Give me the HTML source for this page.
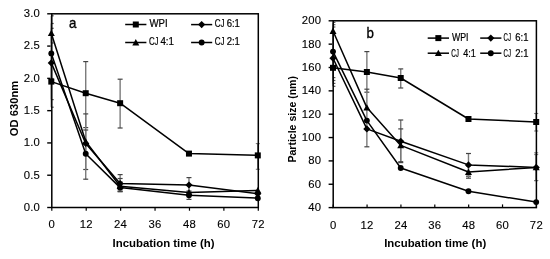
<!DOCTYPE html><html><head><meta charset="utf-8"><style>html,body{margin:0;padding:0;background:#fff;}svg{display:block;}text{font-family:"Liberation Sans", sans-serif;}</style></head><body>
<svg width="550" height="259" viewBox="0 0 550 259">
<rect width="550" height="259" fill="#fff"/>
<line x1="47.20" y1="207.50" x2="51.80" y2="207.50" stroke="#000" stroke-width="1.4"/>
<line x1="47.20" y1="175.22" x2="51.80" y2="175.22" stroke="#000" stroke-width="1.4"/>
<line x1="47.20" y1="142.93" x2="51.80" y2="142.93" stroke="#000" stroke-width="1.4"/>
<line x1="47.20" y1="110.65" x2="51.80" y2="110.65" stroke="#000" stroke-width="1.4"/>
<line x1="47.20" y1="78.37" x2="51.80" y2="78.37" stroke="#000" stroke-width="1.4"/>
<line x1="47.20" y1="46.08" x2="51.80" y2="46.08" stroke="#000" stroke-width="1.4"/>
<line x1="47.20" y1="13.80" x2="51.80" y2="13.80" stroke="#000" stroke-width="1.4"/>
<line x1="51.80" y1="207.50" x2="51.80" y2="210.70" stroke="#000" stroke-width="1.2"/>
<line x1="86.22" y1="207.50" x2="86.22" y2="210.70" stroke="#000" stroke-width="1.2"/>
<line x1="120.63" y1="207.50" x2="120.63" y2="210.70" stroke="#000" stroke-width="1.2"/>
<line x1="155.05" y1="207.50" x2="155.05" y2="210.70" stroke="#000" stroke-width="1.2"/>
<line x1="189.47" y1="207.50" x2="189.47" y2="210.70" stroke="#000" stroke-width="1.2"/>
<line x1="223.88" y1="207.50" x2="223.88" y2="210.70" stroke="#000" stroke-width="1.2"/>
<line x1="258.30" y1="207.50" x2="258.30" y2="210.70" stroke="#000" stroke-width="1.2"/>
<line x1="51.30" y1="63.60" x2="51.30" y2="99.60" stroke="#7a7a7a" stroke-width="1.4"/>
<line x1="51.30" y1="63.60" x2="53.70" y2="63.60" stroke="#555" stroke-width="1.2"/>
<line x1="51.30" y1="99.60" x2="53.70" y2="99.60" stroke="#555" stroke-width="1.2"/>
<line x1="85.72" y1="61.60" x2="85.72" y2="127.60" stroke="#7a7a7a" stroke-width="1.4"/>
<line x1="83.22" y1="61.60" x2="88.22" y2="61.60" stroke="#444" stroke-width="1.2"/>
<line x1="83.22" y1="127.60" x2="88.22" y2="127.60" stroke="#444" stroke-width="1.2"/>
<line x1="120.13" y1="79.20" x2="120.13" y2="128.00" stroke="#7a7a7a" stroke-width="1.4"/>
<line x1="117.63" y1="79.20" x2="122.63" y2="79.20" stroke="#444" stroke-width="1.2"/>
<line x1="117.63" y1="128.00" x2="122.63" y2="128.00" stroke="#444" stroke-width="1.2"/>
<line x1="257.80" y1="143.60" x2="257.80" y2="169.30" stroke="#7a7a7a" stroke-width="1.4"/>
<line x1="255.80" y1="143.60" x2="259.80" y2="143.60" stroke="#777" stroke-width="1.1"/>
<line x1="255.80" y1="169.30" x2="259.80" y2="169.30" stroke="#777" stroke-width="1.1"/>
<line x1="51.30" y1="15.80" x2="51.30" y2="107.20" stroke="#7a7a7a" stroke-width="1.4"/>
<line x1="51.30" y1="15.80" x2="53.70" y2="15.80" stroke="#555" stroke-width="1.2"/>
<line x1="51.30" y1="107.20" x2="53.70" y2="107.20" stroke="#555" stroke-width="1.2"/>
<line x1="120.13" y1="174.60" x2="120.13" y2="191.60" stroke="#7a7a7a" stroke-width="1.4"/>
<line x1="117.63" y1="174.60" x2="122.63" y2="174.60" stroke="#444" stroke-width="1.2"/>
<line x1="117.63" y1="191.60" x2="122.63" y2="191.60" stroke="#444" stroke-width="1.2"/>
<line x1="188.97" y1="177.60" x2="188.97" y2="192.40" stroke="#7a7a7a" stroke-width="1.4"/>
<line x1="186.47" y1="177.60" x2="191.47" y2="177.60" stroke="#444" stroke-width="1.2"/>
<line x1="186.47" y1="192.40" x2="191.47" y2="192.40" stroke="#444" stroke-width="1.2"/>
<line x1="51.30" y1="23.50" x2="51.30" y2="43.00" stroke="#7a7a7a" stroke-width="1.4"/>
<line x1="51.30" y1="23.50" x2="53.70" y2="23.50" stroke="#555" stroke-width="1.2"/>
<line x1="51.30" y1="43.00" x2="53.70" y2="43.00" stroke="#555" stroke-width="1.2"/>
<line x1="85.72" y1="113.90" x2="85.72" y2="169.50" stroke="#7a7a7a" stroke-width="1.4"/>
<line x1="83.22" y1="113.90" x2="88.22" y2="113.90" stroke="#444" stroke-width="1.2"/>
<line x1="83.22" y1="169.50" x2="88.22" y2="169.50" stroke="#444" stroke-width="1.2"/>
<line x1="120.13" y1="178.50" x2="120.13" y2="190.00" stroke="#7a7a7a" stroke-width="1.4"/>
<line x1="117.63" y1="178.50" x2="122.63" y2="178.50" stroke="#444" stroke-width="1.2"/>
<line x1="117.63" y1="190.00" x2="122.63" y2="190.00" stroke="#444" stroke-width="1.2"/>
<line x1="51.30" y1="28.30" x2="51.30" y2="78.50" stroke="#7a7a7a" stroke-width="1.4"/>
<line x1="51.30" y1="28.30" x2="53.70" y2="28.30" stroke="#555" stroke-width="1.2"/>
<line x1="51.30" y1="78.50" x2="53.70" y2="78.50" stroke="#555" stroke-width="1.2"/>
<line x1="85.72" y1="130.00" x2="85.72" y2="179.20" stroke="#7a7a7a" stroke-width="1.4"/>
<line x1="83.22" y1="130.00" x2="88.22" y2="130.00" stroke="#444" stroke-width="1.2"/>
<line x1="83.22" y1="179.20" x2="88.22" y2="179.20" stroke="#444" stroke-width="1.2"/>
<line x1="120.13" y1="182.00" x2="120.13" y2="191.60" stroke="#7a7a7a" stroke-width="1.4"/>
<line x1="117.63" y1="182.00" x2="122.63" y2="182.00" stroke="#444" stroke-width="1.2"/>
<line x1="117.63" y1="191.60" x2="122.63" y2="191.60" stroke="#444" stroke-width="1.2"/>
<line x1="188.97" y1="191.00" x2="188.97" y2="199.40" stroke="#7a7a7a" stroke-width="1.4"/>
<line x1="186.47" y1="191.00" x2="191.47" y2="191.00" stroke="#444" stroke-width="1.2"/>
<line x1="186.47" y1="199.40" x2="191.47" y2="199.40" stroke="#444" stroke-width="1.2"/>
<rect x="51.80" y="13.80" width="206.50" height="193.70" fill="none" stroke="#000" stroke-width="1.5"/>
<polyline points="51.30,81.60 85.72,93.20 120.13,103.20 188.97,153.60 257.80,155.40" fill="none" stroke="#000" stroke-width="1.5" stroke-linejoin="round"/>
<rect x="48.30" y="78.60" width="6.00" height="6.00" fill="#000"/>
<rect x="82.72" y="90.20" width="6.00" height="6.00" fill="#000"/>
<rect x="117.13" y="100.20" width="6.00" height="6.00" fill="#000"/>
<rect x="185.97" y="150.60" width="6.00" height="6.00" fill="#000"/>
<rect x="254.80" y="152.40" width="6.00" height="6.00" fill="#000"/>
<polyline points="51.30,62.90 85.72,143.50 120.13,183.60 188.97,185.00 257.80,193.80" fill="none" stroke="#000" stroke-width="1.5" stroke-linejoin="round"/>
<polygon points="51.30,59.30 54.90,62.90 51.30,66.50 47.70,62.90" fill="#000"/>
<polygon points="85.72,139.90 89.32,143.50 85.72,147.10 82.12,143.50" fill="#000"/>
<polygon points="120.13,180.00 123.73,183.60 120.13,187.20 116.53,183.60" fill="#000"/>
<polygon points="188.97,181.40 192.57,185.00 188.97,188.60 185.37,185.00" fill="#000"/>
<polygon points="257.80,190.20 261.40,193.80 257.80,197.40 254.20,193.80" fill="#000"/>
<polyline points="51.30,33.20 85.72,141.50 120.13,186.20 188.97,192.40 257.80,190.40" fill="none" stroke="#000" stroke-width="1.5" stroke-linejoin="round"/>
<polygon points="51.30,29.80 54.80,36.10 47.80,36.10" fill="#000"/>
<polygon points="85.72,138.10 89.22,144.40 82.22,144.40" fill="#000"/>
<polygon points="120.13,182.80 123.63,189.10 116.63,189.10" fill="#000"/>
<polygon points="188.97,189.00 192.47,195.30 185.47,195.30" fill="#000"/>
<polygon points="257.80,187.00 261.30,193.30 254.30,193.30" fill="#000"/>
<polyline points="51.30,53.40 85.72,153.70 120.13,187.60 188.97,195.20 257.80,198.20" fill="none" stroke="#000" stroke-width="1.5" stroke-linejoin="round"/>
<circle cx="51.30" cy="53.40" r="2.95" fill="#000"/>
<circle cx="85.72" cy="153.70" r="2.95" fill="#000"/>
<circle cx="120.13" cy="187.60" r="2.95" fill="#000"/>
<circle cx="188.97" cy="195.20" r="2.95" fill="#000"/>
<circle cx="257.80" cy="198.20" r="2.95" fill="#000"/>
<text x="68.9" y="27.6" font-size="15" textLength="7.4" lengthAdjust="spacingAndGlyphs" fill="#000" stroke="#000" stroke-width="0.35">a</text>
<line x1="125.2" y1="24.5" x2="146.4" y2="24.5" stroke="#000" stroke-width="1.5"/>
<rect x="132.80" y="21.50" width="6.00" height="6.00" fill="#000"/>
<text y="26.80" font-size="10.6" fill="#000" stroke="#000" stroke-width="0.22"><tspan x="149.51" textLength="18.13" lengthAdjust="spacingAndGlyphs">WPI</tspan></text>
<line x1="125.2" y1="42.5" x2="146.4" y2="42.5" stroke="#000" stroke-width="1.5"/>
<polygon points="135.80,39.10 139.30,45.40 132.30,45.40" fill="#000"/>
<text y="44.60" font-size="10.6" fill="#000" stroke="#000" stroke-width="0.22"><tspan x="148.95" textLength="9.58" lengthAdjust="spacingAndGlyphs">CJ</tspan> <tspan x="160.43" textLength="13.60" lengthAdjust="spacingAndGlyphs">4:1</tspan></text>
<line x1="191.1" y1="24.6" x2="212.2" y2="24.6" stroke="#000" stroke-width="1.5"/>
<polygon points="201.65,21.00 205.25,24.60 201.65,28.20 198.05,24.60" fill="#000"/>
<text y="26.80" font-size="10.6" fill="#000" stroke="#000" stroke-width="0.22"><tspan x="214.74" textLength="9.80" lengthAdjust="spacingAndGlyphs">CJ</tspan> <tspan x="226.67" textLength="13.25" lengthAdjust="spacingAndGlyphs">6:1</tspan></text>
<line x1="191.1" y1="42.5" x2="212.2" y2="42.5" stroke="#000" stroke-width="1.5"/>
<circle cx="201.65" cy="42.50" r="2.95" fill="#000"/>
<text y="44.60" font-size="10.6" fill="#000" stroke="#000" stroke-width="0.22"><tspan x="214.74" textLength="9.80" lengthAdjust="spacingAndGlyphs">CJ</tspan> <tspan x="226.67" textLength="13.24" lengthAdjust="spacingAndGlyphs">2:1</tspan></text>
<line x1="328.60" y1="207.60" x2="333.20" y2="207.60" stroke="#000" stroke-width="1.4"/>
<line x1="328.60" y1="184.25" x2="333.20" y2="184.25" stroke="#000" stroke-width="1.4"/>
<line x1="328.60" y1="160.90" x2="333.20" y2="160.90" stroke="#000" stroke-width="1.4"/>
<line x1="328.60" y1="137.55" x2="333.20" y2="137.55" stroke="#000" stroke-width="1.4"/>
<line x1="328.60" y1="114.20" x2="333.20" y2="114.20" stroke="#000" stroke-width="1.4"/>
<line x1="328.60" y1="90.85" x2="333.20" y2="90.85" stroke="#000" stroke-width="1.4"/>
<line x1="328.60" y1="67.50" x2="333.20" y2="67.50" stroke="#000" stroke-width="1.4"/>
<line x1="328.60" y1="44.15" x2="333.20" y2="44.15" stroke="#000" stroke-width="1.4"/>
<line x1="328.60" y1="20.80" x2="333.20" y2="20.80" stroke="#000" stroke-width="1.4"/>
<line x1="333.20" y1="204.40" x2="333.20" y2="207.60" stroke="#000" stroke-width="1.2"/>
<line x1="367.07" y1="204.40" x2="367.07" y2="207.60" stroke="#000" stroke-width="1.2"/>
<line x1="400.93" y1="204.40" x2="400.93" y2="207.60" stroke="#000" stroke-width="1.2"/>
<line x1="434.80" y1="204.40" x2="434.80" y2="207.60" stroke="#000" stroke-width="1.2"/>
<line x1="468.67" y1="204.40" x2="468.67" y2="207.60" stroke="#000" stroke-width="1.2"/>
<line x1="502.53" y1="204.40" x2="502.53" y2="207.60" stroke="#000" stroke-width="1.2"/>
<line x1="536.40" y1="204.40" x2="536.40" y2="207.60" stroke="#000" stroke-width="1.2"/>
<line x1="333.00" y1="57.80" x2="333.00" y2="77.60" stroke="#7a7a7a" stroke-width="1.4"/>
<line x1="333.00" y1="57.80" x2="335.40" y2="57.80" stroke="#555" stroke-width="1.2"/>
<line x1="333.00" y1="77.60" x2="335.40" y2="77.60" stroke="#555" stroke-width="1.2"/>
<line x1="366.87" y1="51.60" x2="366.87" y2="92.20" stroke="#7a7a7a" stroke-width="1.4"/>
<line x1="364.37" y1="51.60" x2="369.37" y2="51.60" stroke="#444" stroke-width="1.2"/>
<line x1="364.37" y1="92.20" x2="369.37" y2="92.20" stroke="#444" stroke-width="1.2"/>
<line x1="400.73" y1="68.90" x2="400.73" y2="88.00" stroke="#7a7a7a" stroke-width="1.4"/>
<line x1="398.23" y1="68.90" x2="403.23" y2="68.90" stroke="#444" stroke-width="1.2"/>
<line x1="398.23" y1="88.00" x2="403.23" y2="88.00" stroke="#444" stroke-width="1.2"/>
<line x1="536.20" y1="113.50" x2="536.20" y2="131.00" stroke="#7a7a7a" stroke-width="1.4"/>
<line x1="534.20" y1="113.50" x2="538.20" y2="113.50" stroke="#777" stroke-width="1.1"/>
<line x1="534.20" y1="131.00" x2="538.20" y2="131.00" stroke="#777" stroke-width="1.1"/>
<line x1="333.00" y1="27.00" x2="333.00" y2="86.30" stroke="#7a7a7a" stroke-width="1.4"/>
<line x1="333.00" y1="27.00" x2="335.40" y2="27.00" stroke="#555" stroke-width="1.2"/>
<line x1="333.00" y1="86.30" x2="335.40" y2="86.30" stroke="#555" stroke-width="1.2"/>
<line x1="366.87" y1="89.20" x2="366.87" y2="146.80" stroke="#7a7a7a" stroke-width="1.4"/>
<line x1="364.37" y1="89.20" x2="369.37" y2="89.20" stroke="#444" stroke-width="1.2"/>
<line x1="364.37" y1="146.80" x2="369.37" y2="146.80" stroke="#444" stroke-width="1.2"/>
<line x1="400.73" y1="120.00" x2="400.73" y2="162.60" stroke="#7a7a7a" stroke-width="1.4"/>
<line x1="398.23" y1="120.00" x2="403.23" y2="120.00" stroke="#444" stroke-width="1.2"/>
<line x1="398.23" y1="162.60" x2="403.23" y2="162.60" stroke="#444" stroke-width="1.2"/>
<line x1="468.47" y1="153.50" x2="468.47" y2="176.20" stroke="#7a7a7a" stroke-width="1.4"/>
<line x1="465.97" y1="153.50" x2="470.97" y2="153.50" stroke="#444" stroke-width="1.2"/>
<line x1="465.97" y1="176.20" x2="470.97" y2="176.20" stroke="#444" stroke-width="1.2"/>
<line x1="536.20" y1="152.80" x2="536.20" y2="180.60" stroke="#7a7a7a" stroke-width="1.4"/>
<line x1="534.20" y1="152.80" x2="538.20" y2="152.80" stroke="#777" stroke-width="1.1"/>
<line x1="534.20" y1="180.60" x2="538.20" y2="180.60" stroke="#777" stroke-width="1.1"/>
<line x1="333.00" y1="24.70" x2="333.00" y2="83.40" stroke="#7a7a7a" stroke-width="1.4"/>
<line x1="333.00" y1="24.70" x2="335.40" y2="24.70" stroke="#555" stroke-width="1.2"/>
<line x1="333.00" y1="83.40" x2="335.40" y2="83.40" stroke="#555" stroke-width="1.2"/>
<line x1="400.73" y1="128.90" x2="400.73" y2="161.70" stroke="#7a7a7a" stroke-width="1.4"/>
<line x1="398.23" y1="128.90" x2="403.23" y2="128.90" stroke="#444" stroke-width="1.2"/>
<line x1="398.23" y1="161.70" x2="403.23" y2="161.70" stroke="#444" stroke-width="1.2"/>
<line x1="468.47" y1="166.00" x2="468.47" y2="178.20" stroke="#7a7a7a" stroke-width="1.4"/>
<line x1="465.97" y1="166.00" x2="470.97" y2="166.00" stroke="#444" stroke-width="1.2"/>
<line x1="465.97" y1="178.20" x2="470.97" y2="178.20" stroke="#444" stroke-width="1.2"/>
<line x1="536.20" y1="154.60" x2="536.20" y2="180.60" stroke="#7a7a7a" stroke-width="1.4"/>
<line x1="534.20" y1="154.60" x2="538.20" y2="154.60" stroke="#777" stroke-width="1.1"/>
<line x1="534.20" y1="180.60" x2="538.20" y2="180.60" stroke="#777" stroke-width="1.1"/>
<line x1="333.00" y1="22.40" x2="333.00" y2="80.50" stroke="#7a7a7a" stroke-width="1.4"/>
<line x1="333.00" y1="22.40" x2="335.40" y2="22.40" stroke="#555" stroke-width="1.2"/>
<line x1="333.00" y1="80.50" x2="335.40" y2="80.50" stroke="#555" stroke-width="1.2"/>
<rect x="333.20" y="20.80" width="203.20" height="186.80" fill="none" stroke="#000" stroke-width="1.5"/>
<polyline points="333.00,67.80 366.87,72.00 400.73,78.00 468.47,119.00 536.20,122.00" fill="none" stroke="#000" stroke-width="1.5" stroke-linejoin="round"/>
<rect x="330.00" y="64.80" width="6.00" height="6.00" fill="#000"/>
<rect x="363.87" y="69.00" width="6.00" height="6.00" fill="#000"/>
<rect x="397.73" y="75.00" width="6.00" height="6.00" fill="#000"/>
<rect x="465.47" y="116.00" width="6.00" height="6.00" fill="#000"/>
<rect x="533.20" y="119.00" width="6.00" height="6.00" fill="#000"/>
<polyline points="333.00,58.20 366.87,128.90 400.73,141.30 468.47,164.90 536.20,167.40" fill="none" stroke="#000" stroke-width="1.5" stroke-linejoin="round"/>
<polygon points="333.00,54.60 336.60,58.20 333.00,61.80 329.40,58.20" fill="#000"/>
<polygon points="366.87,125.30 370.47,128.90 366.87,132.50 363.27,128.90" fill="#000"/>
<polygon points="400.73,137.70 404.33,141.30 400.73,144.90 397.13,141.30" fill="#000"/>
<polygon points="468.47,161.30 472.07,164.90 468.47,168.50 464.87,164.90" fill="#000"/>
<polygon points="536.20,163.80 539.80,167.40 536.20,171.00 532.60,167.40" fill="#000"/>
<polyline points="333.00,31.00 366.87,107.60 400.73,145.40 468.47,172.00 536.20,167.40" fill="none" stroke="#000" stroke-width="1.5" stroke-linejoin="round"/>
<polygon points="333.00,27.60 336.50,33.90 329.50,33.90" fill="#000"/>
<polygon points="366.87,104.20 370.37,110.50 363.37,110.50" fill="#000"/>
<polygon points="400.73,142.00 404.23,148.30 397.23,148.30" fill="#000"/>
<polygon points="468.47,168.60 471.97,174.90 464.97,174.90" fill="#000"/>
<polygon points="536.20,164.00 539.70,170.30 532.70,170.30" fill="#000"/>
<polyline points="333.00,51.60 366.87,120.60 400.73,168.00 468.47,191.30 536.20,202.10" fill="none" stroke="#000" stroke-width="1.5" stroke-linejoin="round"/>
<circle cx="333.00" cy="51.60" r="2.95" fill="#000"/>
<circle cx="366.87" cy="120.60" r="2.95" fill="#000"/>
<circle cx="400.73" cy="168.00" r="2.95" fill="#000"/>
<circle cx="468.47" cy="191.30" r="2.95" fill="#000"/>
<circle cx="536.20" cy="202.10" r="2.95" fill="#000"/>
<text x="366.4" y="37.7" font-size="15" textLength="7.4" lengthAdjust="spacingAndGlyphs" fill="#000" stroke="#000" stroke-width="0.35">b</text>
<line x1="427.7" y1="38.1" x2="449.0" y2="38.1" stroke="#000" stroke-width="1.5"/>
<rect x="435.35" y="35.10" width="6.00" height="6.00" fill="#000"/>
<text y="40.80" font-size="10.2" fill="#000" stroke="#000" stroke-width="0.22"><tspan x="452.01" textLength="16.55" lengthAdjust="spacingAndGlyphs">WPI</tspan></text>
<line x1="427.7" y1="53.2" x2="449.0" y2="53.2" stroke="#000" stroke-width="1.5"/>
<polygon points="438.35,49.80 441.85,56.10 434.85,56.10" fill="#000"/>
<text y="56.50" font-size="10.2" fill="#000" stroke="#000" stroke-width="0.22"><tspan x="451.33" textLength="7.69" lengthAdjust="spacingAndGlyphs">CJ</tspan> <tspan x="463.34" textLength="12.55" lengthAdjust="spacingAndGlyphs">4:1</tspan></text>
<line x1="480.2" y1="38.1" x2="501.4" y2="38.1" stroke="#000" stroke-width="1.5"/>
<polygon points="490.80,34.50 494.40,38.10 490.80,41.70 487.20,38.10" fill="#000"/>
<text y="40.80" font-size="10.2" fill="#000" stroke="#000" stroke-width="0.22"><tspan x="503.54" textLength="7.35" lengthAdjust="spacingAndGlyphs">CJ</tspan> <tspan x="515.27" textLength="13.14" lengthAdjust="spacingAndGlyphs">6:1</tspan></text>
<line x1="480.2" y1="53.2" x2="501.4" y2="53.2" stroke="#000" stroke-width="1.5"/>
<circle cx="490.80" cy="53.20" r="2.95" fill="#000"/>
<text y="56.50" font-size="10.2" fill="#000" stroke="#000" stroke-width="0.22"><tspan x="503.54" textLength="7.35" lengthAdjust="spacingAndGlyphs">CJ</tspan> <tspan x="515.27" textLength="13.14" lengthAdjust="spacingAndGlyphs">2:1</tspan></text>
<text x="40.15" y="210.80" font-size="11.3" text-anchor="end" fill="#000" stroke="#000" stroke-width="0.12" letter-spacing="0.25">0.0</text>
<text x="40.15" y="178.52" font-size="11.3" text-anchor="end" fill="#000" stroke="#000" stroke-width="0.12" letter-spacing="0.25">0.5</text>
<text x="40.15" y="146.23" font-size="11.3" text-anchor="end" fill="#000" stroke="#000" stroke-width="0.12" letter-spacing="0.25">1.0</text>
<text x="40.15" y="113.95" font-size="11.3" text-anchor="end" fill="#000" stroke="#000" stroke-width="0.12" letter-spacing="0.25">1.5</text>
<text x="40.15" y="81.67" font-size="11.3" text-anchor="end" fill="#000" stroke="#000" stroke-width="0.12" letter-spacing="0.25">2.0</text>
<text x="40.15" y="49.38" font-size="11.3" text-anchor="end" fill="#000" stroke="#000" stroke-width="0.12" letter-spacing="0.25">2.5</text>
<text x="40.15" y="17.10" font-size="11.3" text-anchor="end" fill="#000" stroke="#000" stroke-width="0.12" letter-spacing="0.25">3.0</text>
<text x="321.35" y="211.10" font-size="11.3" text-anchor="end" fill="#000" stroke="#000" stroke-width="0.12" letter-spacing="0.25">40</text>
<text x="321.35" y="187.75" font-size="11.3" text-anchor="end" fill="#000" stroke="#000" stroke-width="0.12" letter-spacing="0.25">60</text>
<text x="321.35" y="164.40" font-size="11.3" text-anchor="end" fill="#000" stroke="#000" stroke-width="0.12" letter-spacing="0.25">80</text>
<text x="321.35" y="141.05" font-size="11.3" text-anchor="end" fill="#000" stroke="#000" stroke-width="0.12" letter-spacing="0.25">100</text>
<text x="321.35" y="117.70" font-size="11.3" text-anchor="end" fill="#000" stroke="#000" stroke-width="0.12" letter-spacing="0.25">120</text>
<text x="321.35" y="94.35" font-size="11.3" text-anchor="end" fill="#000" stroke="#000" stroke-width="0.12" letter-spacing="0.25">140</text>
<text x="321.35" y="71.00" font-size="11.3" text-anchor="end" fill="#000" stroke="#000" stroke-width="0.12" letter-spacing="0.25">160</text>
<text x="321.35" y="47.65" font-size="11.3" text-anchor="end" fill="#000" stroke="#000" stroke-width="0.12" letter-spacing="0.25">180</text>
<text x="321.35" y="24.30" font-size="11.3" text-anchor="end" fill="#000" stroke="#000" stroke-width="0.12" letter-spacing="0.25">200</text>
<text x="51.80" y="227.60" font-size="11.3" text-anchor="middle" fill="#000" stroke="#000" stroke-width="0.12" letter-spacing="0.25">0</text>
<text x="333.20" y="228.60" font-size="11.3" text-anchor="middle" fill="#000" stroke="#000" stroke-width="0.12" letter-spacing="0.25">0</text>
<text x="86.22" y="227.60" font-size="11.3" text-anchor="middle" fill="#000" stroke="#000" stroke-width="0.12" letter-spacing="0.25">12</text>
<text x="367.07" y="228.60" font-size="11.3" text-anchor="middle" fill="#000" stroke="#000" stroke-width="0.12" letter-spacing="0.25">12</text>
<text x="120.63" y="227.60" font-size="11.3" text-anchor="middle" fill="#000" stroke="#000" stroke-width="0.12" letter-spacing="0.25">24</text>
<text x="400.93" y="228.60" font-size="11.3" text-anchor="middle" fill="#000" stroke="#000" stroke-width="0.12" letter-spacing="0.25">24</text>
<text x="155.05" y="227.60" font-size="11.3" text-anchor="middle" fill="#000" stroke="#000" stroke-width="0.12" letter-spacing="0.25">36</text>
<text x="434.80" y="228.60" font-size="11.3" text-anchor="middle" fill="#000" stroke="#000" stroke-width="0.12" letter-spacing="0.25">36</text>
<text x="189.47" y="227.60" font-size="11.3" text-anchor="middle" fill="#000" stroke="#000" stroke-width="0.12" letter-spacing="0.25">48</text>
<text x="468.67" y="228.60" font-size="11.3" text-anchor="middle" fill="#000" stroke="#000" stroke-width="0.12" letter-spacing="0.25">48</text>
<text x="223.88" y="227.60" font-size="11.3" text-anchor="middle" fill="#000" stroke="#000" stroke-width="0.12" letter-spacing="0.25">60</text>
<text x="502.53" y="228.60" font-size="11.3" text-anchor="middle" fill="#000" stroke="#000" stroke-width="0.12" letter-spacing="0.25">60</text>
<text x="258.30" y="227.60" font-size="11.3" text-anchor="middle" fill="#000" stroke="#000" stroke-width="0.12" letter-spacing="0.25">72</text>
<text x="536.40" y="228.60" font-size="11.3" text-anchor="middle" fill="#000" stroke="#000" stroke-width="0.12" letter-spacing="0.25">72</text>
<text x="163.5" y="247" font-size="11.8" font-weight="bold" text-anchor="middle" textLength="102" lengthAdjust="spacingAndGlyphs">Incubation time (h)</text>
<text x="435.2" y="247" font-size="11.8" font-weight="bold" text-anchor="middle" textLength="102" lengthAdjust="spacingAndGlyphs">Incubation time (h)</text>
<text transform="translate(18,108.5) rotate(-90)" font-size="11.8" font-weight="bold" text-anchor="middle" textLength="55.3" lengthAdjust="spacingAndGlyphs">OD 630nm</text>
<text transform="translate(296.0,119.3) rotate(-90)" font-size="11.8" font-weight="bold" text-anchor="middle" textLength="86.4" lengthAdjust="spacingAndGlyphs">Particle size (nm)</text>
</svg></body></html>
